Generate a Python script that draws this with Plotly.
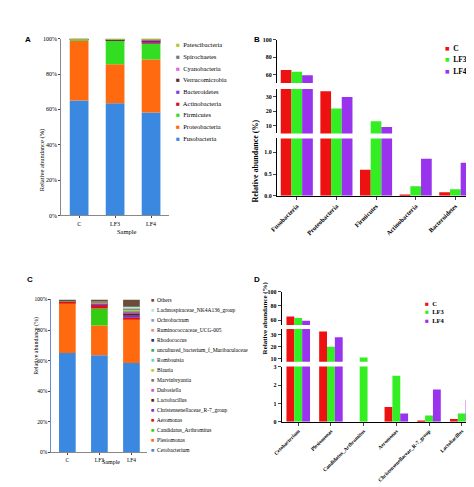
import numpy as np
import plotly.graph_objects as go

W, H = 474, 487
samples = ["C", "LF3", "LF4"]

# Panel A: phylum stacked (bottom -> top)
phyla = ["Fusobacteria", "Proteobacteria", "Firmicutes", "Actinobacteria", "Bacteroidetes",
         "Verrucomicrobia", "Cyanobacteria", "Spirochaetes", "Patescibacteria"]
phyla_vals = [[65, 63.5, 58.2], [34, 22, 30], [0.6, 13.5, 9], [0.03, 0.22, 0.85], [0.08, 0.15, 0.76],
              [0.05, 0.3, 0.6], [0.01, 0.05, 0.4], [0.02, 0.1, 0.1], [0.2, 0.1, 0.1]]
phyla_cols = ["#3a88e0", "#ff6a10", "#33dd22", "#cc1122", "#7744dd", "#5a2a2a", "#dd66dd", "#777777", "#aacc33"]

# Panel B: phylum grouped
b_cats = ["Fusobacteria", "Proteobacteria", "Firmicutes", "Actinobacteria", "Bacteroidetes"]
b_C = [65, 34, 0.6, 0.03, 0.08]
b_LF3 = [63, 22, 13, 0.22, 0.15]
b_LF4 = [59, 30, 9, 0.85, 0.76]

# Panel C: genus stacked (bottom -> top)
genera = ["Cetobacterium", "Plesiomonas", "Candidatus_Arthromitus", "Aeromonas", "Christensenellaceae_R-7_group",
          "Lactobacillus", "Dubosiella", "Marvinbryantia", "Blautia", "Romboutsia",
          "uncultured_bacterium_f_Muribaculaceae", "Rhodococcus", "Ruminococcaceae_UCG-005",
          "Ochrobactrum", "Lachnospiraceae_NK4A136_group"]
genera_vals = [[65, 63.5, 58.5], [33, 19.5, 29], [0, 11, 0], [0.8, 2.5, 0.45], [0.05, 0.35, 1.75],
               [0.15, 0.45, 1.2], [0.05, 0.1, 1.0], [0.02, 0.6, 0.8], [0.01, 0.05, 0.2], [0.05, 0.3, 0.6],
               [0.02, 0.2, 0.5], [0.1, 0.05, 0.05], [0.02, 0.1, 0.3], [0.05, 0.05, 0.1], [0.02, 0.2, 0.8]]
genera_cols = ["#3a88e0", "#ff6a10", "#33cc11", "#dd1111", "#7733cc", "#552222", "#cc55cc", "#777777",
               "#bbcc33", "#55ddbb", "#33aa66", "#223388", "#ee8888", "#8899cc", "#aaeecc"]
others_col = "#6b4c3a"

# Panel D: genus grouped
d_cats = ["Cetobacterium", "Plesiomonas", "Candidatus_Arthromitus", "Aeromonas",
          "Christensenellaceae_R-7_group", "Lactobacillus"]
d_C = [65, 33, 0, 0.8, 0.05, 0.15]
d_LF3 = [63, 20, 11, 2.5, 0.35, 0.45]
d_LF4 = [59, 28, 0, 0.45, 1.75, 1.2]

grp_cols = ["#ee1111", "#33ee22", "#9933ee"]
SERIF = "Liberation Serif"

def px(x): return x / W
def py(y): return 1 - y / H

fig = go.Figure()
lay = dict(width=W, height=H, margin=dict(l=0, r=0, t=0, b=0), showlegend=False,
           barmode="overlay", plot_bgcolor="white", paper_bgcolor="white",
           font=dict(family=SERIF, size=7, color="black"))
ann = []

def stacked(xa, ya, names, vals, cols, extra=None):
    arr = np.array(vals, dtype=float)
    if extra is not None:
        arr = np.vstack([arr, 100 - arr.sum(axis=0)])
        cols = cols + [extra]
    base = np.vstack([np.zeros(arr.shape[1]), np.cumsum(arr, axis=0)[:-1]])
    for v, b, c in zip(arr, base, cols):
        fig.add_bar(x=samples, y=v, base=b, marker=dict(color=c, line_width=0), width=0.52,
                    xaxis=xa, yaxis=ya)

def legend_ann(names, cols, x, y0, y1, size, bold=False):
    n = len(names)
    for i, (nm, c) in enumerate(zip(names, cols)):
        yy = y0 + (y1 - y0) * i / (n - 1)
        t = f"<b>{nm}</b>" if bold else nm
        ann.append(dict(x=px(x), y=py(yy), xref="paper", yref="paper", xanchor="left", yanchor="middle",
                        showarrow=False, text=f"<span style='color:{c}'>■</span>  {t}",
                        font=dict(size=size, family=SERIF)))

# ---- Panel A
stacked("x", "y", phyla, phyla_vals, phyla_cols)
lay["xaxis"] = dict(domain=[px(45), px(155)], anchor="y", range=[-0.5, 2.5], showline=True, linecolor="#888",
                    ticks="outside", ticklen=2, tickfont=dict(size=6))
lay["yaxis"] = dict(domain=[py(207), py(28)], anchor="x", range=[0, 100], tickvals=[0, 20, 40, 60, 80, 100],
                    ticktext=[f"{v}%" for v in range(0, 101, 20)], showline=True, linecolor="#888",
                    ticks="outside", ticklen=2, tickfont=dict(size=6), showgrid=False)
legend_ann(phyla[::-1], phyla_cols[::-1], 160, 34, 129, 6.5)
ann.append(dict(x=px(19), y=py(118), xref="paper", yref="paper", text="Relative abundance (%)", textangle=-90,
                showarrow=False, font=dict(size=6.5)))
ann.append(dict(x=px(100), y=py(223), xref="paper", yref="paper", text="Sample", showarrow=False, font=dict(size=6.5)))

# ---- Panel C
stacked("x3", "y5", genera, genera_vals, genera_cols, others_col)
lay["xaxis3"] = dict(domain=[px(35), px(133)], anchor="y5", range=[-0.5, 2.5], showline=True, linecolor="#888",
                     ticks="outside", ticklen=2, tickfont=dict(size=5.5))
lay["yaxis5"] = dict(domain=[py(447), py(292)], anchor="x3", range=[0, 100], tickvals=[0, 20, 40, 60, 80, 100],
                     ticktext=[f"{v}%" for v in range(0, 101, 20)], showline=True, linecolor="#6a8ccc",
                     ticks="outside", ticklen=2, tickfont=dict(size=5.5), showgrid=False)
cn = ["Others"] + genera[::-1]
cc = [others_col] + genera_cols[::-1]
legend_ann(cn, cc, 135, 293, 444, 5.5)
ann.append(dict(x=px(14), y=py(370), xref="paper", yref="paper", text="Relative abundance (%)", textangle=-90,
                showarrow=False, font=dict(size=6)))
ann.append(dict(x=px(85), y=py(462), xref="paper", yref="paper", text="Sample", showarrow=False, font=dict(size=6)))

# ---- broken-axis grouped panels
def broken(xa, yas, cats, series, xdom, segs, bw, tfs):
    xn = "xaxis" + xa[1:]
    for ya in yas:
        for i, (vals, c, nm) in enumerate(zip(series, grp_cols, samples)):
            fig.add_bar(x=cats, y=vals, width=bw, offset=-1.5 * bw + i * bw, marker=dict(color=c, line_width=0),
                        xaxis=xa, yaxis=ya, name=nm)
    lay[xn] = dict(domain=xdom, anchor=yas[0], range=[-0.5, len(cats) - 0.5], showline=True, linecolor="black",
                   linewidth=1.2, ticks="outside", ticklen=3, tickangle=-45,
                   tickfont=dict(size=tfs, family=SERIF), tickvals=cats, ticktext=[f"<b>{c}</b>" for c in cats])
    for ya, (dom, rng, tv, tt) in zip(yas, segs):
        lay["yaxis" + ya[1:]] = dict(domain=dom, anchor=xa, range=rng, tickvals=tv, ticktext=[f"<b>{t}</b>" for t in tt],
                                     showline=True, linecolor="black", linewidth=1.2, ticks="outside", ticklen=3,
                                     tickfont=dict(size=6), showgrid=False, zeroline=False)

broken("x2", ["y2", "y3", "y4"], b_cats, [b_C, b_LF3, b_LF4], [px(265), px(467)],
       [([py(187), py(129)], [0, 1.32], [0, 0.5, 1.0], ["0.0", "0.5", "1.0"]),
        ([py(124), py(79)], [4.5, 35.5], [10, 20, 30], ["10", "20", "30"]),
        ([py(73), py(29)], [50, 100], [60, 80, 100], ["60", "80", "100"])], 0.27, 6.5)
broken("x4", ["y6", "y7", "y8"], d_cats, [d_C, d_LF3, d_LF4], [px(270), px(470)],
       [([py(416), py(360)], [0, 3], [0, 1, 2, 3], ["0", "1", "2", "3"]),
        ([py(355), py(322)], [7.5, 35], [10, 20, 30], ["10", "20", "30"]),
        ([py(318), py(284)], [53, 100], [60, 80, 100], ["60", "80", "100"])], 0.24, 5.3)
legend_ann(samples, grp_cols, 434, 38, 61, 7.5, bold=True)
legend_ann(samples, grp_cols, 414, 296, 313, 6.5, bold=True)
ann.append(dict(x=px(243), y=py(108), xref="paper", yref="paper", text="<b>Relative abundance (%)</b>",
                textangle=-90, showarrow=False, font=dict(size=8)))
ann.append(dict(x=px(253), y=py(350), xref="paper", yref="paper", text="<b>Relative abundance (%)</b>",
                textangle=-90, showarrow=False, font=dict(size=7)))

for t, x, y in [("A", 6, 22), ("B", 240, 22), ("C", 8, 272), ("D", 240, 272)]:
    ann.append(dict(x=px(x), y=py(y), xref="paper", yref="paper", text=f"<b>{t}</b>", showarrow=False,
                    xanchor="left", font=dict(family="Liberation Sans", size=8)))

lay["annotations"] = ann
fig.update_layout(**lay)
fig.write_html("out.html")
